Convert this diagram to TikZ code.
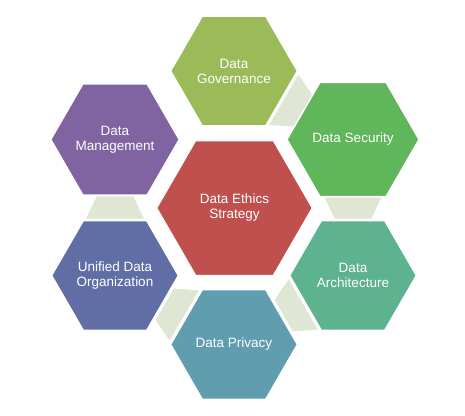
\documentclass[tikz,border=0pt]{standalone}
\usepackage{fontspec}
\setmainfont{Liberation Sans}
\usetikzlibrary{shapes.geometric,calc}
\definecolor{cgov}{HTML}{9BBB59}
\definecolor{csec}{HTML}{60B65A}
\definecolor{carch}{HTML}{5DB28F}
\definecolor{cpriv}{HTML}{609DAE}
\definecolor{cunif}{HTML}{616EA6}
\definecolor{cmgmt}{HTML}{8064A2}
\definecolor{ccenter}{HTML}{C0504D}
\definecolor{cconn}{HTML}{DFE7D4}
\tikzset{
  hexbase/.style={regular polygon, regular polygon sides=6, draw=white, line width=1.6pt,
    inner sep=0pt, outer sep=0pt, text=white, align=center,
    font=\fontsize{13.5}{15}\selectfont},
  outerhex/.style={hexbase, minimum size=127pt},
  centerhex/.style={hexbase, minimum size=156pt},
  conn/.style={fill=cconn, draw=none},
}
\begin{document}
\begin{tikzpicture}[x=1pt,y=1pt]
\useasboundingbox (0,0) rectangle (465,-415);
% hexagon centres
\coordinate (pgov) at (234,-71);
\coordinate (psec) at (353,-139.5);
\coordinate (parch) at (353,-275.5);
\coordinate (ppriv) at (234,-344.5);
\coordinate (punif) at (115,-275.5);
\coordinate (pmgmt) at (115,-139.5);
% connectors (behind the hexagons)
\fill[conn, shift={($(pgov)!0.5!(psec)$)}, rotate=-30] (-11.2,-29) -- (-11.2,29) -- (11.2,18.3) -- (11.2,-18.3) -- cycle;
\fill[conn, shift={($(psec)!0.5!(parch)$)}, rotate=-90] (-11.2,-29) -- (-11.2,29) -- (11.2,18.3) -- (11.2,-18.3) -- cycle;
\fill[conn, shift={($(parch)!0.5!(ppriv)$)}, rotate=-150] (-11.2,-29) -- (-11.2,29) -- (11.2,18.3) -- (11.2,-18.3) -- cycle;
\fill[conn, shift={($(ppriv)!0.5!(punif)$)}, rotate=150] (-11.2,-29) -- (-11.2,29) -- (11.2,18.3) -- (11.2,-18.3) -- cycle;
\fill[conn, shift={($(punif)!0.5!(pmgmt)$)}, rotate=90] (-11.2,-29) -- (-11.2,29) -- (11.2,18.3) -- (11.2,-18.3) -- cycle;
% hexagons
\node[outerhex, fill=cgov] (gov) at (pgov) {Data\\Governance};
\node[outerhex, fill=csec] (sec) at (psec) {Data Security};
\node[outerhex, fill=carch] (arch) at (parch) {Data\\Architecture};
\node[outerhex, fill=cpriv] (priv) at (ppriv) {Data Privacy};
\node[outerhex, fill=cunif] (unif) at (punif) {Unified Data\\Organization};
\node[outerhex, fill=cmgmt] (mgmt) at (pmgmt) {Data\\Management};
\node[centerhex, fill=ccenter] (center) at (234.5,-208) {Data Ethics\\Strategy};
\end{tikzpicture}
\end{document}
